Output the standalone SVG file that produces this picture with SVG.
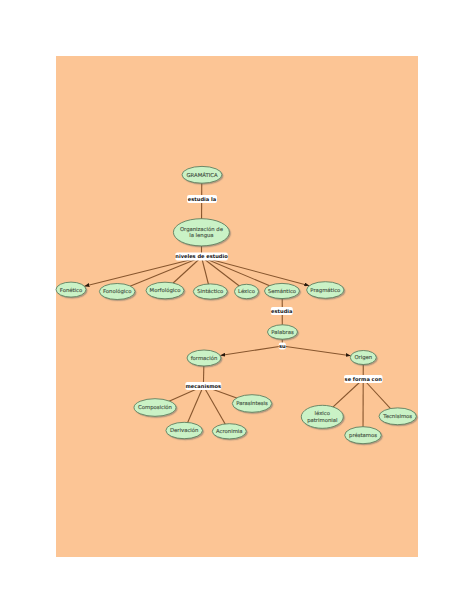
<svg xmlns="http://www.w3.org/2000/svg" width="474" height="613" viewBox="0 0 474 613">
<style>
.node ellipse{fill:#caf2c6;stroke:#5f7f5f;stroke-width:0.9;filter:url(#sh)}
.node text{font-family:"DejaVu Sans","Liberation Sans",sans-serif;font-size:5.3px;fill:#43503f;text-anchor:middle;stroke:#43503f;stroke-width:0.12}
.lbl rect{fill:#ffffff;stroke:none}
.lbl text{font-family:"DejaVu Sans","Liberation Sans",sans-serif;font-size:5.1px;font-weight:bold;fill:#111;text-anchor:middle}
#connectors line{stroke:#87562e;stroke-width:1.1;fill:none}
</style>
<defs>
<filter id="sh" x="-20%" y="-30%" width="150%" height="170%">
<feDropShadow dx="1.2" dy="1.2" stdDeviation="0.7" flood-color="#666" flood-opacity="0.45"/>
</filter>
<marker id="ah" markerUnits="userSpaceOnUse" markerWidth="5" markerHeight="4" refX="5" refY="2" orient="auto">
<path d="M0,0 L5,2 L0,4 z" fill="#2a1a0e"/>
</marker>
</defs>
<rect x="0" y="0" width="474" height="613" fill="#ffffff"/>
<rect x="56" y="56" width="362" height="501" fill="#fcc595"/>

<g id="connectors">
<line x1="201.8" y1="174.5" x2="201.5" y2="232"/>
<line x1="201.5" y1="232" x2="201.5" y2="257"/>
<line x1="201.5" y1="257" x2="84.4" y2="286.2" marker-end="url(#ah)"/>
<line x1="201.5" y1="257" x2="117.2" y2="291.5"/>
<line x1="201.5" y1="257" x2="165" y2="290.5"/>
<line x1="201.5" y1="257" x2="210.3" y2="291.5"/>
<line x1="201.5" y1="257" x2="246.5" y2="291.5"/>
<line x1="201.5" y1="257" x2="282" y2="291"/>
<line x1="201.5" y1="257" x2="309.3" y2="285.7" marker-end="url(#ah)"/>
<line x1="282.2" y1="291" x2="282.3" y2="332"/>
<line x1="282.3" y1="332" x2="282.3" y2="346"/>
<line x1="282.3" y1="346" x2="220.2" y2="355.5" marker-end="url(#ah)"/>
<line x1="282.3" y1="346" x2="350.7" y2="355.7" marker-end="url(#ah)"/>
<line x1="204" y1="358" x2="203.4" y2="386"/>
<line x1="203.4" y1="386" x2="155" y2="407.5"/>
<line x1="203.4" y1="386" x2="184.2" y2="430.5"/>
<line x1="203.4" y1="386" x2="229.3" y2="431.3"/>
<line x1="203.4" y1="386" x2="252" y2="403.5"/>
<line x1="363.3" y1="357.5" x2="363.2" y2="379"/>
<line x1="363.2" y1="379" x2="322.3" y2="416.8"/>
<line x1="363.2" y1="379" x2="363" y2="435.2"/>
<line x1="363.2" y1="379" x2="397.7" y2="416.3"/>
</g>

<g id="lbl-estudia-la" class="lbl"><rect x="187" y="195" width="30" height="8" rx="2"/><text x="202" y="200.8">estudia la</text></g>
<g id="lbl-niveles" class="lbl"><rect x="175.3" y="252.5" width="52.5" height="8" rx="2"/><text x="201.5" y="258.3">niveles de estudio</text></g>
<g id="lbl-estudia" class="lbl"><rect x="270.8" y="307" width="22" height="8" rx="2"/><text x="281.8" y="312.8">estudia</text></g>
<g id="lbl-su" class="lbl"><rect x="278.8" y="342.5" width="7" height="7" rx="2"/><text x="282.3" y="347.8">su</text></g>
<g id="lbl-mecanismos" class="lbl"><rect x="185.3" y="382" width="36" height="8" rx="2"/><text x="203.3" y="387.8">mecanismos</text></g>
<g id="lbl-seformacon" class="lbl"><rect x="344" y="375" width="38.5" height="8" rx="2"/><text x="363.2" y="380.8">se forma con</text></g>

<g id="n-gramatica" class="node"><ellipse cx="202" cy="174.8" rx="20" ry="8.4"/><text x="202" y="176.7">GRAMÁTICA</text></g>
<g id="n-organizacion" class="node"><ellipse cx="201.4" cy="232.3" rx="28" ry="13.6"/><text x="201.4" y="230.5">Organización de</text><text x="201.4" y="237.3">la lengua</text></g>
<g id="n-fonetico" class="node"><ellipse cx="71" cy="289.6" rx="15" ry="7.5"/><text x="71" y="291.5">Fonético</text></g>
<g id="n-fonologico" class="node"><ellipse cx="117.2" cy="291.5" rx="17.8" ry="8"/><text x="117.2" y="293.4">Fonológico</text></g>
<g id="n-morfologico" class="node"><ellipse cx="165" cy="290.5" rx="19" ry="8.3"/><text x="165" y="292.4">Morfológico</text></g>
<g id="n-sintactico" class="node"><ellipse cx="210.3" cy="291.5" rx="17" ry="7.6"/><text x="210.3" y="293.4">Sintáctico</text></g>
<g id="n-lexico" class="node"><ellipse cx="246.5" cy="291.5" rx="12" ry="7.2"/><text x="246.5" y="293.4">Léxico</text></g>
<g id="n-semantico" class="node"><ellipse cx="282" cy="291" rx="17.5" ry="7.6"/><text x="282" y="292.9">Semántico</text></g>
<g id="n-pragmatico" class="node"><ellipse cx="325.3" cy="290" rx="18.7" ry="8.3"/><text x="325.3" y="291.9">Pragmático</text></g>
<g id="n-palabras" class="node"><ellipse cx="282.5" cy="332" rx="15" ry="7.2"/><text x="282.5" y="333.9">Palabras</text></g>
<g id="n-formacion" class="node"><ellipse cx="204" cy="358" rx="17" ry="8"/><text x="204" y="359.9">formación</text></g>
<g id="n-origen" class="node"><ellipse cx="363.3" cy="357.5" rx="13" ry="7"/><text x="363.3" y="359.4">Origen</text></g>
<g id="n-composicion" class="node"><ellipse cx="155" cy="407.5" rx="21" ry="8.8"/><text x="155" y="409.4">Composición</text></g>
<g id="n-parasintesis" class="node"><ellipse cx="252" cy="403.5" rx="19.7" ry="8.8"/><text x="252" y="405.4">Parasíntesis</text></g>
<g id="n-derivacion" class="node"><ellipse cx="184.2" cy="430.5" rx="18.3" ry="8.2"/><text x="184.2" y="432.4">Derivación</text></g>
<g id="n-acronimia" class="node"><ellipse cx="229.3" cy="431.3" rx="17" ry="7.6"/><text x="229.3" y="433.2">Acronimia</text></g>
<g id="n-lexicopatrimonial" class="node"><ellipse cx="322.3" cy="416.8" rx="21" ry="11.5"/><text x="322.3" y="415">léxico</text><text x="322.3" y="421.6">patrimonial</text></g>
<g id="n-tecnisimos" class="node"><ellipse cx="397.7" cy="416.3" rx="18.7" ry="8.4"/><text x="397.7" y="418.2">Tecnisimos</text></g>
<g id="n-prestamos" class="node"><ellipse cx="363" cy="435.2" rx="18.3" ry="8.5"/><text x="363" y="437.1">préstamos</text></g>
</svg>
